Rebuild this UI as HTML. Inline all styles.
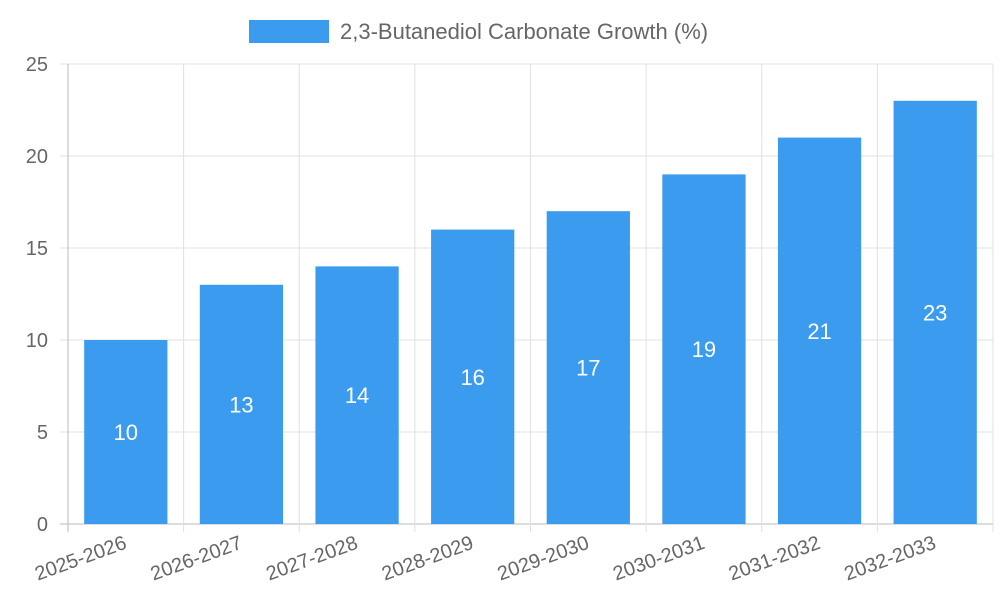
<!DOCTYPE html>
<html><head><meta charset="utf-8"><style>
html,body{margin:0;padding:0;background:#fff;}
svg{display:block;font-family:"Liberation Sans",Arial,sans-serif;}
</style></head><body>
<svg id="chart" width="1000" height="600"></svg>
<script>
const categories=["2025-2026","2026-2027","2027-2028","2028-2029","2029-2030","2030-2031","2031-2032","2032-2033"];
const values=[10,13,14,16,17,19,21,23];
const yTicks=[0,5,10,15,20,25];
const seriesName="2,3-Butanediol Carbonate Growth (%)";

const NS="http://www.w3.org/2000/svg";
const svg=document.getElementById('chart');
const L=68,R=993,T=64,B=524,yMax=25;
const band=(R-L)/categories.length;
const x=i=>L+band*i;
const y=v=>B-(v/yMax)*(B-T);
function mk(tag,attrs,parent){const e=document.createElementNS(NS,tag);for(const k in attrs)e.setAttribute(k,attrs[k]);(parent||svg).appendChild(e);return e;}

// grid
const grid=mk('g',{});


yTicks.forEach(t=>{
  const ln=mk('line',{x1:L-8,x2:R,y1:y(t),y2:y(t),stroke:t===0?'#bbb':'#e0e0e0','stroke-width':1},grid);
  
  
  const tx=mk('text',{x:L-20,y:y(t)+7,'text-anchor':'end','font-size':20,fill:'#666'},grid);
  tx.textContent=t;
  
  
});
for(let i=0;i<=categories.length;i++){
  const ln=mk('line',{x1:x(i),x2:x(i),y1:T,y2:B+8,stroke:i===0?'#bbb':'#e0e0e0','stroke-width':1},grid);
  
  
}
// bars
values.forEach((v,i)=>{
  const w=band*0.72;
  const cx=x(i)+band/2;
  const r=mk('rect',{x:cx-w/2,y:y(v),width:w,height:B-y(v),fill:'#3a9bef'});
  
  
  const t=mk('text',{x:cx,y:(y(v)+B)/2+8,'text-anchor':'middle','font-size':22,fill:'#fff'});
  t.textContent=v;
  
  
  const xl=mk('text',{transform:`translate(${cx+2},${B+24}) rotate(-20)`,'text-anchor':'end','font-size':20,fill:'#666'});
  xl.textContent=categories[i];
  
  
});
// legend
const lg=mk('g',{});


mk('rect',{x:249,y:20,width:80,height:23,fill:'#3a9bef'},lg);
const lt=mk('text',{x:340,y:39,'font-size':22,fill:'#666'},lg);
lt.textContent=seriesName;
</script>
</body></html>
